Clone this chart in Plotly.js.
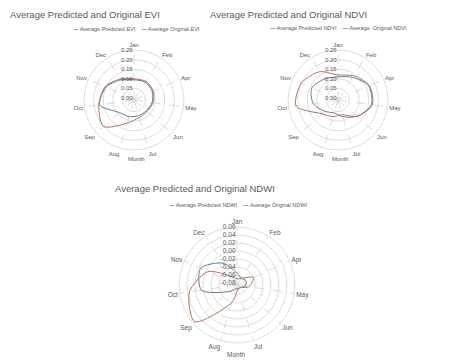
<!DOCTYPE html>
<html>
<head>
<meta charset="utf-8">
<script src="https://cdn.plot.ly/plotly-3.0.1.min.js"></script>
<style>html,body{margin:0;padding:0;background:#fff;}#chart{width:474px;height:362px;}</style>
</head>
<body>
<div id="chart"></div>
<script>
// ---- data ----
const months = ['Jan','Feb','Apr','May','Jun','Jul','Aug','Sep','Oct','Nov','Dec'];

const eviPredicted = [0.095, 0.100, 0.095, 0.085, 0.075, 0.075, 0.080, 0.090, 0.170, 0.150, 0.115];
const eviOriginal  = [0.100, 0.105, 0.100, 0.090, 0.080, 0.085, 0.115, 0.200, 0.175, 0.155, 0.120];

const ndviPredicted = [0.110, 0.130, 0.165, 0.165, 0.120, 0.080, 0.060, 0.080, 0.120, 0.140, 0.120];
const ndviOriginal  = [0.120, 0.140, 0.170, 0.170, 0.120, 0.070, 0.080, 0.100, 0.210, 0.200, 0.165];

const ndwiPredicted = [-0.055, -0.065, -0.060, -0.065, -0.075, -0.075, -0.075, -0.060, 0.005, 0.015, -0.020];
const ndwiOriginal  = [-0.070, -0.065, -0.040, -0.055, -0.075, -0.075, -0.040, 0.055, 0.035, -0.005, -0.060];

const viTickVals = [0.00, 0.05, 0.10, 0.15, 0.20, 0.25];
const viTickText = ['0.00', '0.05', '0.10', '0.15', '0.20', '0.25'];
const ndwiTickVals = [-0.08, -0.06, -0.04, -0.02, 0.00, 0.02, 0.04, 0.06];
const ndwiTickText = ['-0.08', '-0.06', '-0.04', '-0.02', '0.00', '0.02', '0.04', '0.06'];

const titles = ['Average Predicted and Original EVI', 'Average Predicted and Original NDVI', 'Average Predicted and Original NDWI'];
const legendNames = [
  ['Average Predicted EVI', 'Average Original EVI'],
  ['Average Predicted NDVI', 'Average  Original NDVI'],
  ['Average Predicted NDWI', 'Average Original NDWI']
];

// ---- styling ----
const W = 474, H = 362;
const predColor = '#667c98';
const origColor = '#b07460';
const legPred = '#4f78a8';
const legOrig = '#b5553f';
const textColor = '#595959';
const gridColor = '#dcdcdc';
const fontFam = 'Liberation Sans, Arial, sans-serif';

function px2x(p) { return p / W; }
function px2y(p) { return 1 - p / H; }

function close(a) { return a.concat([a[0]]); }

function traces(pred, orig, names, sub) {
  return [
    {type:'scatterpolar', subplot:sub, theta: close(months), r: close(pred), name: names[0],
     mode:'lines', line:{color:predColor, width:1, shape:'spline', smoothing:0.8}, showlegend:false},
    {type:'scatterpolar', subplot:sub, theta: close(months), r: close(orig), name: names[1],
     mode:'lines', line:{color:origColor, width:1, shape:'spline', smoothing:0.8}, showlegend:false}
  ];
}

function polar(cx, cy, rad, range, tv, tt, fs) {
  return {
    domain: {x:[px2x(cx - rad), px2x(cx + rad)], y:[px2y(cy + rad), px2y(cy - rad)]},
    bgcolor:'#ffffff',
    angularaxis: {type:'category', categoryarray: months, rotation:90, direction:'clockwise',
      tickfont:{size:fs, color:textColor, family:fontFam}, ticks:'', showline:true, linecolor:gridColor,
      gridcolor:gridColor, griddash:'dash', gridwidth:1},
    radialaxis: {range: range, tickvals: tv, ticktext: tt, angle:90, tickangle:90, side:'counterclockwise',
      showline:false, ticks:'', gridcolor:gridColor, gridwidth:1,
      tickfont:{size:fs, color:textColor, family:fontFam}}
  };
}

const data = [].concat(
  traces(eviPredicted, eviOriginal, legendNames[0], 'polar'),
  traces(ndviPredicted, ndviOriginal, legendNames[1], 'polar2'),
  traces(ndwiPredicted, ndwiOriginal, legendNames[2], 'polar3')
);

function legendText(names) {
  return '<span style="color:' + legPred + '"><b>—</b></span> ' + names[0] +
         '    <span style="color:' + legOrig + '"><b>—</b></span> ' + names[1];
}

function ann(text, xp, yp, size, anchor) {
  return {text: text, xref:'paper', yref:'paper', x: px2x(xp), y: px2y(yp), xanchor: anchor, yanchor:'middle',
          showarrow:false, font:{size:size, color:textColor, family:fontFam}};
}

const layout = {
  width: W, height: H,
  margin: {l:0, r:0, t:0, b:0},
  paper_bgcolor:'#ffffff',
  font: {family: fontFam, color: textColor},
  showlegend: false,
  polar: polar(134, 100, 50, [-0.01, 0.25], viTickVals, viTickText, 6),
  polar2: polar(338, 100, 50, [-0.01, 0.25], viTickVals, viTickText, 6),
  polar3: polar(237, 285, 58, [-0.085, 0.06], ndwiTickVals, ndwiTickText, 6.5),
  annotations: [
    ann(titles[0], 8, 15, 9.5, 'left'),
    ann(titles[1], 208, 15, 9.5, 'left'),
    ann(titles[2], 113, 188, 9.5, 'left'),
    ann(legendText(legendNames[0]), 136, 29, 5.5, 'center'),
    ann(legendText(legendNames[1]), 338, 28, 5.5, 'center'),
    ann(legendText(legendNames[2]), 238, 205, 5.5, 'center'),
    ann('Month', 136, 159, 6, 'center'),
    ann('Month', 340, 159, 6, 'center'),
    ann('Month', 236, 354, 6.5, 'center')
  ]
};

Plotly.newPlot('chart', data, layout, {displayModeBar:false, staticPlot:true});
</script>
</body>
</html>
